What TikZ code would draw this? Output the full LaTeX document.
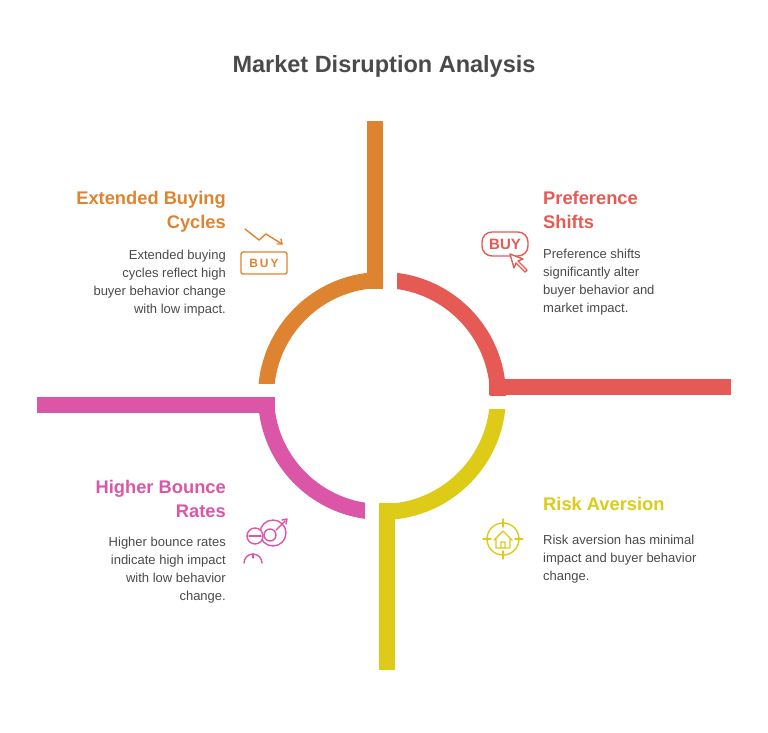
\documentclass[tikz,border=0pt]{standalone}
\usepackage{fontspec}
\setmainfont{Liberation Sans}
\definecolor{cO}{HTML}{DE8431}
\definecolor{cR}{HTML}{E55A54}
\definecolor{cY}{HTML}{DDCB17}
\definecolor{cP}{HTML}{DC56A7}
\definecolor{tx}{HTML}{4A4A4A}
\begin{document}
\begin{tikzpicture}[x=1pt,y=-1pt,
 head/.style={font=\fontsize{18.3}{24}\selectfont\bfseries, inner sep=0pt},
 body/.style={font=\fontsize{13}{18}\selectfont, text=tx, inner sep=0pt},
 ic/.style={line width=1.4pt, line cap=round, line join=round}]
\useasboundingbox (0,0) rectangle (768,732);
\def\cx{382}\def\cy{396}
% orange
\begin{scope}\clip (0,0) rectangle (383,383);
\fill[cO,even odd rule] (\cx,\cy) circle (124) (\cx,\cy) circle (108);\end{scope}
\fill[cO] (367,121) rectangle (383,289);
% red
\begin{scope}\clip (397,0) rectangle (768,395);
\fill[cR,even odd rule] (\cx,\cy) circle (124) (\cx,\cy) circle (108);\end{scope}
\fill[cR] (489,379) rectangle (731,395);
% yellow
\begin{scope}\clip (379,409) rectangle (768,732);
\fill[cY,even odd rule] (\cx,\cy) circle (124) (\cx,\cy) circle (108);\end{scope}
\fill[cY] (379,503) rectangle (395,670);
% pink
\begin{scope}\clip (0,397) rectangle (365,732);
\fill[cP,even odd rule] (\cx,\cy) circle (124) (\cx,\cy) circle (108);\end{scope}
\fill[cP] (37,397) rectangle (275,413);
% title
\node[font=\fontsize{23.5}{26}\selectfont\bfseries, text=tx] (title) at (384,66) {Market Disruption Analysis};
% texts
\node[head,text=cO,align=right,anchor=north east] (h1) at (226,191) {Extended Buying\\Cycles};
\node[body,align=right,anchor=north east] (b1) at (226,250) {Extended buying\\cycles reflect high\\buyer behavior change\\with low impact.};
\node[head,text=cR,align=left,anchor=north west] (h2) at (543,191) {Preference\\Shifts};
\node[body,align=left,anchor=north west] (b2) at (543,249) {Preference shifts\\significantly alter\\buyer behavior and\\market impact.};
\node[head,text=cP,align=right,anchor=north east] (h3) at (226,480) {Higher Bounce\\Rates};
\node[body,align=right,anchor=north east] (b3) at (226,537) {Higher bounce rates\\indicate high impact\\with low behavior\\change.};
\node[head,text=cY,align=left,anchor=north west] (h4) at (543,497) {Risk Aversion};
\node[body,align=left,anchor=north west] (b4) at (543,535) {Risk aversion has minimal\\impact and buyer behavior\\change.};
% icon orange
\draw[cO,ic] (245,229) -- (259,240) -- (266,234) -- (282,244);
\draw[cO,ic] (277,244) -- (282,244) -- (281,239);
\draw[cO,ic,rounded corners=2pt] (241,252) rectangle (287,274);
\node[cO,font=\fontsize{12}{12}\selectfont\bfseries] (i1) at (264,263) {B\,U\,Y};
% icon red
\draw[cR,ic,rounded corners=10pt] (482,232) rectangle (528,256);
\node[cR,font=\fontsize{15}{15}\selectfont\bfseries] (i2) at (505,244) {BUY};
\draw[cR,ic,fill=white] (510,254) -- (523,259) -- (518,261) -- (527,270) -- (525,272) -- (516,263) -- (514,268) -- cycle;
% icon yellow
\draw[cY,ic] (503,539) circle (16);
\draw[cY,ic] (503,519) -- (503,527) (503,551) -- (503,559) (483,539) -- (491,539) (515,539) -- (523,539);
\draw[cY,ic] (494,540) -- (503,531) -- (512,540) (496,538) -- (496,548) -- (510,548) -- (510,538) (501,548) -- (501,542) -- (505,542) -- (505,548);
% icon pink
\draw[cP,ic] (273,533) circle (13) (270,535) circle (6);
\draw[cP,ic] (276,530) -- (285,521) (282,520) -- (287,519) -- (286,524);
\draw[cP,ic,fill=white] (255,536) circle (8);
\draw[cP,ic] (249,536) -- (261,536);
\draw[cP,ic] (244,563) arc (180:360:9);
\draw[cP,ic] (253,554) -- (253,558);
\end{tikzpicture}
\end{document}
